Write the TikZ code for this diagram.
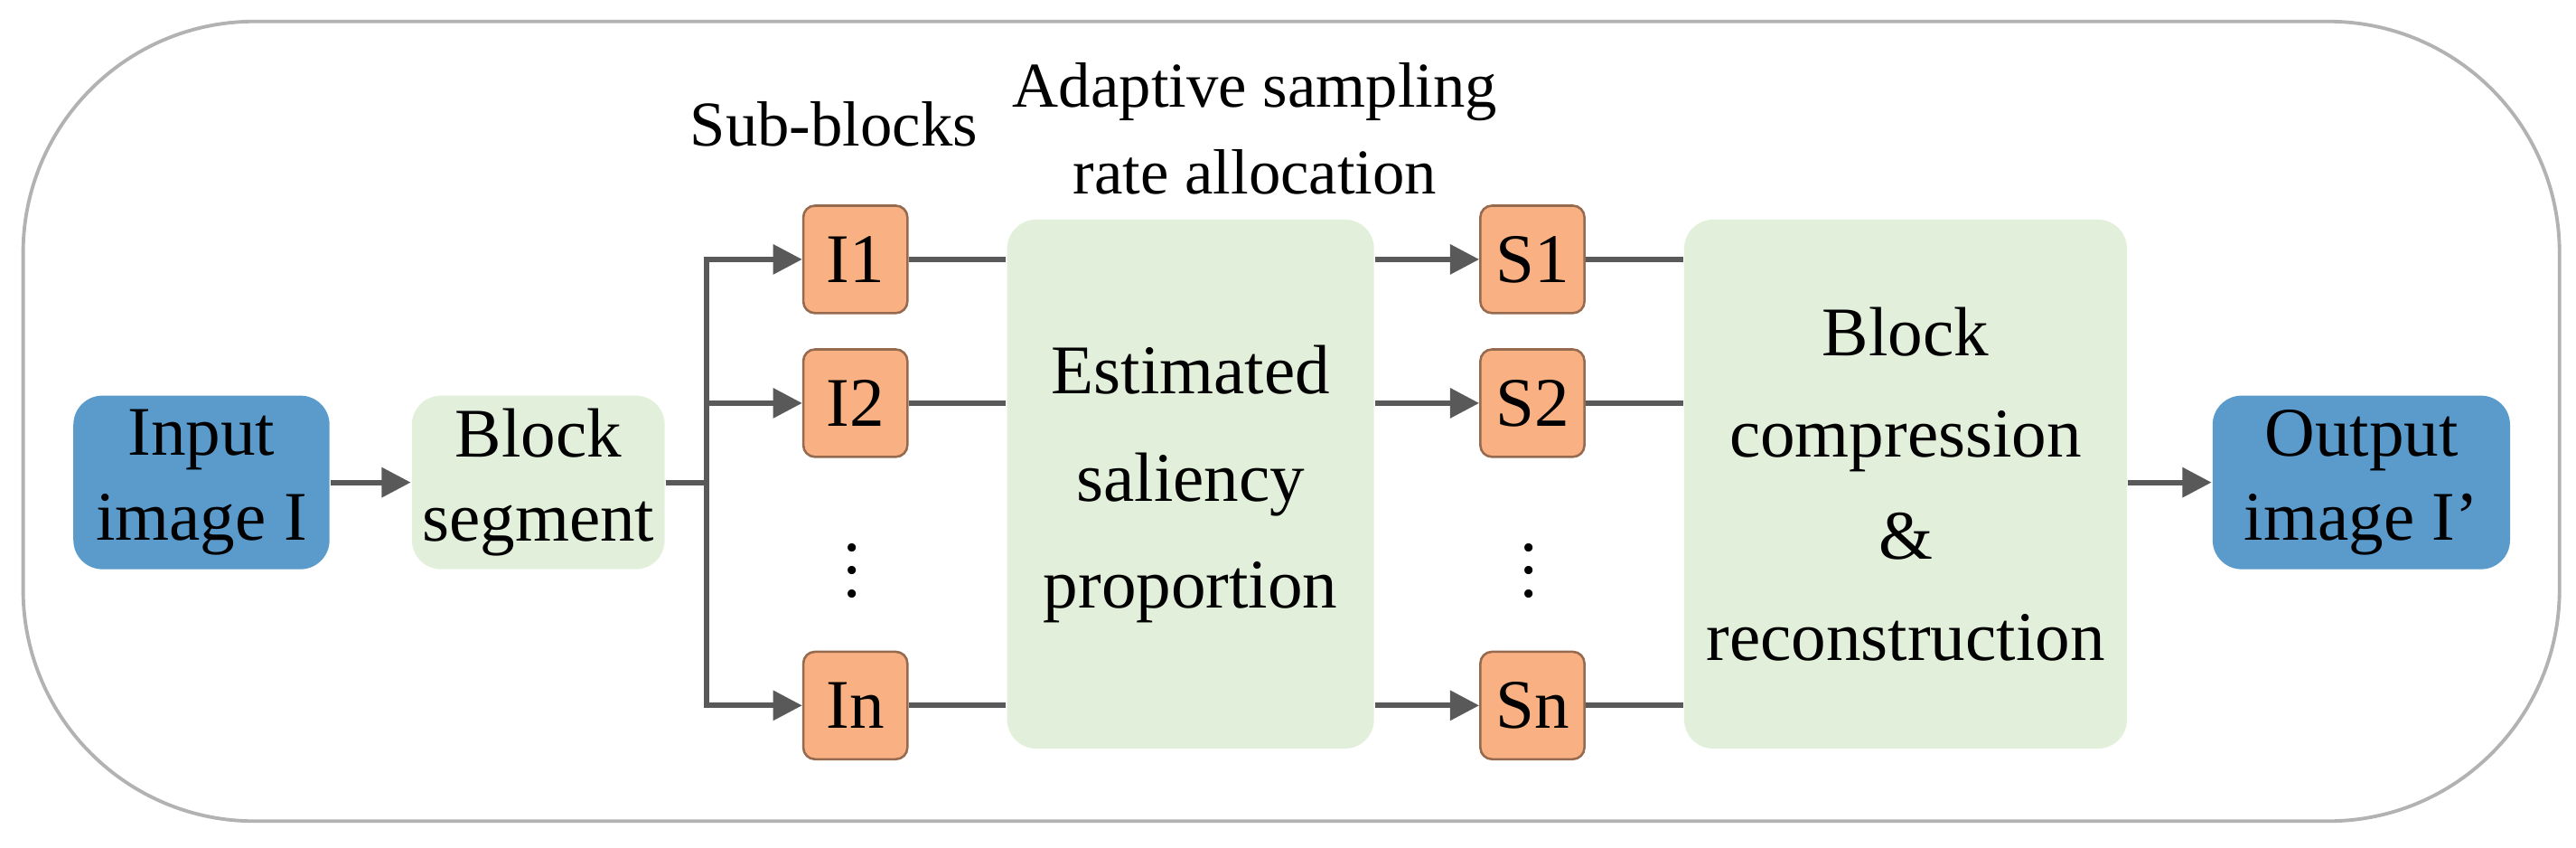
\documentclass[tikz,border=0pt]{standalone}
\usepackage{fontspec}
\setmainfont{Liberation Serif}
\usetikzlibrary{arrows.meta}
\definecolor{bl}{HTML}{5B9BCC}
\definecolor{gr}{HTML}{E2EFDA}
\definecolor{og}{HTML}{F9B183}
\definecolor{ln}{HTML}{595959}
\begin{document}
\begin{tikzpicture}[x=0.01cm,y=-0.01cm,
 box/.style={rounded corners=5pt,inner sep=0pt,align=center,font=\fontsize{12}{14.5}\selectfont},
 blue/.style={box,fill=bl},
 green/.style={box,fill=gr},
 sm/.style={draw=og!60!black,line width=0.4pt,fill=og,rounded corners=2pt,minimum width=0.63cm,minimum height=0.65cm,inner sep=0pt,font=\fontsize{12}{14}\selectfont},
 ar/.style={draw=ln,line width=0.9pt,-{Triangle[length=5pt,width=5pt]}},
 ln/.style={draw=ln,line width=0.9pt},
 lab/.style={font=\fontsize{11}{15}\selectfont,align=center}]
\useasboundingbox (0,0) rectangle (1560,513);
\draw[gray!60,line width=0.6pt,rounded corners=1.4cm] (14,13) rectangle (1550,497);
\node[blue,minimum width=1.55cm,minimum height=1.05cm] (in) at (122,292) {Input\\image I};
\node[green,minimum width=1.53cm,minimum height=1.05cm] (bs) at (326,292) {Block\\segment};
\node[sm] (i1) at (518,157) {I1};
\node[sm] (i2) at (518,244) {I2};
\node[sm] (in2) at (518,427) {In};
\node[font=\fontsize{12}{14}\selectfont] (d1) at (516,335) {$\vdots$};
\node[green,minimum width=2.22cm,minimum height=3.2cm] (es) at (721,293) {Estimated\\[4pt]saliency\\[4pt]proportion};
\node[sm] (s1) at (928,157) {S1};
\node[sm] (s2) at (928,244) {S2};
\node[sm] (sn) at (928,427) {Sn};
\node[font=\fontsize{12}{14}\selectfont] (d2) at (926,335) {$\vdots$};
\node[green,minimum width=2.68cm,minimum height=3.2cm] (bc) at (1154,293) {Block\\[3pt]compression\\[3pt]\&\\[3pt]reconstruction};
\node[blue,minimum width=1.8cm,minimum height=1.05cm] (out) at (1430,292) {Output\\image I'};
\node[lab] (sb) at (505,75) {Sub-blocks};
\node[lab] (as) at (760,78) {Adaptive sampling\\rate allocation};
\coordinate (j) at (428,292);
\draw[ar] (in) -- (bs);
\draw[ln] (bs.east) -- (j);
\draw[ar] (j) |- (i1);
\draw[ar] (j) |- (in2);
\draw[ar] (j|-i2) -- (i2);
\foreach \a in {i1,i2,in2} \draw[ln] (\a.east) -- (es.west|-\a);
\foreach \a in {s1,s2,sn} \draw[ar] (es.east|-\a) -- (\a);
\foreach \a in {s1,s2,sn} \draw[ln] (\a.east) -- (bc.west|-\a);
\draw[ar] (bc.east|-out) -- (out);
\end{tikzpicture}
\end{document}
